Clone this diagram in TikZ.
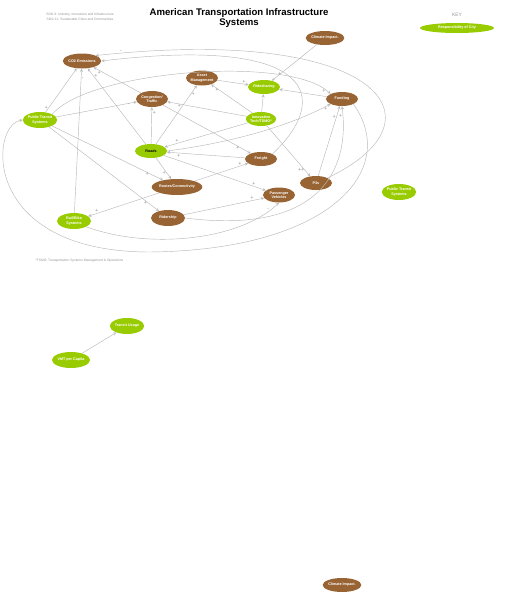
\documentclass[tikz,border=0pt]{standalone}
\usepackage{fontspec}
\setmainfont{Liberation Sans}
\usetikzlibrary{shapes.geometric,positioning}
\definecolor{factorbrown}{RGB}{153,100,52}
\definecolor{citygreen}{RGB}{153,204,0}
\begin{document}
\begin{tikzpicture}[
    x=1pt, y=-1pt,
    factor/.style={ellipse, draw=none, fill=factorbrown, text=white, inner sep=0pt,
        minimum width=32pt, minimum height=15pt, align=center,
        font=\fontsize{3.7}{4.3}\selectfont\bfseries},
    city/.style={factor, fill=citygreen},
    arrow/.style={->, >=stealth, draw=gray!55, line width=0.45pt},
    sgn/.style={font=\fontsize{5.5}{5.5}\selectfont, text=gray!85, inner sep=0.6pt},
    note/.style={font=\fontsize{3.3}{4.4}\selectfont, text=gray!85, align=center}
]
\useasboundingbox (0,0) rectangle (504,600);

% Header
\node[font=\fontsize{9.6}{10.2}\selectfont\bfseries, align=center] (title) at (239,18)
    {American Transportation Infrastructure\\Systems};
\node[note] (sdg) at (80,17) {SDG 9: Industry, Innovation and Infrastructure\\SDG 11: Sustainable Cities and Communities};

% Key
\node[city, minimum width=74pt, minimum height=10pt] (key) at (457,28) {Responsibility of City};
\node[font=\fontsize{4.8}{5}\selectfont, text=gray!85, above=3pt of key] (keytitle) {KEY};

% Factors
\node[factor] (co2) at (82,61) {CO2 Emissions};
\node[factor, minimum width=37pt, minimum height=14pt] (climtop) at (325,38) {Climate Impact.};
\node[factor] (asset) at (202,78) {Asset\\Management};
\node[factor, minimum height=16pt] (cong) at (152,99) {Congestion/\\Traffic};
\node[city, minimum height=14pt] (ride) at (264,87) {Ridesharing};
\node[factor, minimum height=14pt] (fund) at (342,99) {Funding};
\node[city, minimum width=34pt, minimum height=16pt] (pts) at (40,120) {Public Transit\\Systems};
\node[city, minimum width=30pt, minimum height=14pt] (tech) at (261,119) {Innovative\\Tech/TSMO*};
\node[city, minimum height=14pt, text=black] (roads) at (151,151) {Roads};
\node[factor, minimum height=14pt] (freight) at (261,159) {Freight};
\node[factor, minimum width=44pt, minimum height=16pt] (conn) at (177,187) {Routes/Connectivity};
\node[factor, minimum height=15pt] (pass) at (279,195) {Passenger\\Vehicles};
\node[factor, minimum height=14pt] (p3) at (316,183) {P3s};
\node[city, minimum width=34pt, minimum height=16pt] (ptsright) at (399,192) {Public Transit\\Systems};
\node[city, minimum width=34pt, minimum height=16pt] (rail) at (74,221) {Rail/Bike\\Systems};
\node[factor, minimum width=34pt, minimum height=16pt] (riders) at (168,218) {Ridership};

% Footnote
\node[note, anchor=west] (tsmo) at (32,261) {*TSMO: Transportation Systems Management \& Operations};

% Lower loop
\node[city, minimum width=34pt, minimum height=16pt] (transit) at (127,326) {Transit Usage};
\node[city, minimum width=34pt, minimum height=16pt] (vmt) at (71,360) {VMT per Capita};
\node[factor, minimum width=37pt, minimum height=14pt] (climbot) at (342,585) {Climate Impact.};

% Straight links
\draw[arrow] (climtop) -- node[sgn, pos=0.88, above right] {+} (ride);
\draw[arrow] (pts) -- node[sgn, pos=0.1, left] {+} (co2);
\draw[arrow] (rail) -- node[sgn, pos=0.93, right] {-} (co2);
\draw[arrow] (roads) -- node[sgn, pos=0.9, right] {+} (co2);
\draw[arrow] (cong) -- node[sgn, pos=0.88, below] {+} (co2);
\draw[arrow] (pts) -- node[sgn, pos=0.9, below] {-} (cong);
\draw[arrow] (roads) -- node[sgn, pos=0.85, right] {+} (cong);
\draw[arrow] (roads) -- node[sgn, pos=0.85, right] {+} (asset);
\draw[arrow] (asset) -- node[sgn, pos=0.85, above] {+} (ride);
\draw[arrow] (tech) -- (ride);
\draw[arrow] (tech) -- node[sgn, pos=0.85, below] {+} (cong);
\draw[arrow] (tech) -- node[sgn, pos=0.8, left] {+} (asset);
\draw[arrow] (fund) -- (ride);
\draw[arrow] (p3) -- node[sgn, pos=0.85, left] {+} (fund);
\draw[arrow] (tech) -- node[sgn, pos=0.88, left] {++} (p3);
\draw[arrow] (tech) -- node[sgn, pos=0.85, above] {+} (roads);
\draw[arrow] (freight) -- node[sgn, pos=0.85, below] {+} (roads);
\draw[arrow] (cong) -- node[sgn, pos=0.88, left] {+} (freight);
\draw[arrow] (pts) -- node[sgn, pos=0.88, left] {+} (conn);
\draw[arrow] (pts) -- node[sgn, pos=0.9, left] {+} (riders);
\draw[arrow] (roads) -- node[sgn, pos=0.7, left] {+} (conn);
\draw[arrow] (conn) -- node[sgn, pos=0.88, above] {+} (rail);
\draw[arrow] (conn) -- node[sgn, pos=0.85, above] {+} (freight);
\draw[arrow] (roads) -- node[sgn, pos=0.88, above] {+} (pass);
\draw[arrow] (riders) -- node[sgn, pos=0.85, above] {+} (pass);
\draw[arrow] (vmt) -- (transit);

% Curved links
\draw[arrow] (p3.north east) .. controls (450,120) and (380,25) .. node[sgn, pos=0.97, above] {-} (co2.north east);
\draw[arrow] (freight.north east) .. controls (330,100) and (320,35) .. (co2.east);
\draw[arrow] (pts.north east) .. controls (90,70) and (290,55) .. node[sgn, pos=0.97, left] {+} (fund.north west);
\draw[arrow] (roads.east) .. controls (250,140) and (300,120) .. node[sgn, pos=0.95, below] {+} (fund.south west);
\draw[arrow] (riders.east) .. controls (320,235) and (350,170) .. node[sgn, pos=0.95, left] {+} (fund.south);
\draw[arrow] (rail.south east) .. controls (150,250) and (240,240) .. node[sgn, pos=0.93, left] {-} (pass.south);
\draw[arrow] (fund.south east) .. controls (400,170) and (330,250) .. (150,252)
    .. controls (-20,252) and (-10,125) .. (pts.west);

\end{tikzpicture}
\end{document}
